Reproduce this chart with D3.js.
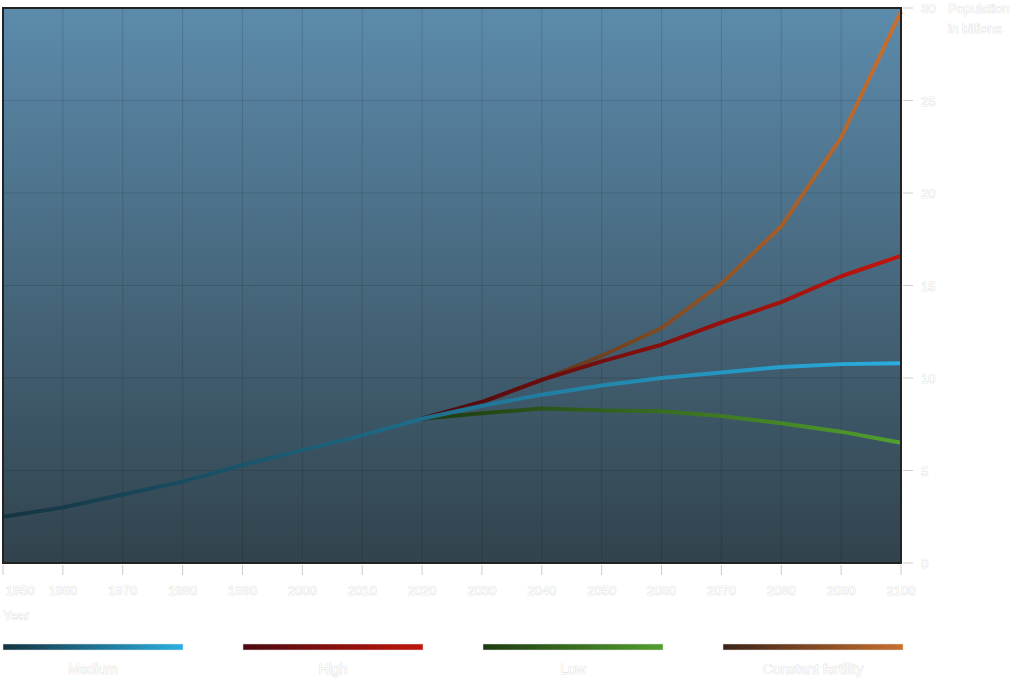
<!DOCTYPE html>
<html><head><meta charset="utf-8">
<script src="https://cdn.jsdelivr.net/npm/d3@7"></script>
<style>body{margin:0;background:#fff}svg{display:block}text{font-family:"Liberation Sans",Arial,sans-serif;fill:#fff;stroke:#cfcfcf;stroke-width:0.6px;paint-order:stroke}</style>
</head><body><svg id="chart" width="1024" height="679"></svg>
<script>
// values
var years = [1950,1960,1970,1980,1990,2000,2010,2020,2030,2040,2050,2060,2070,2080,2090,2100];
var projYears = [2020,2030,2040,2050,2060,2070,2080,2090,2100];
var medium = [2.5,3.0,3.7,4.4,5.3,6.1,6.9,7.8,8.5,9.1,9.6,10.0,10.3,10.6,10.75,10.8];
var high = [7.8,8.7,9.9,10.9,11.8,13.0,14.1,15.5,16.6];
var low = [7.8,8.1,8.35,8.25,8.2,7.95,7.55,7.1,6.5];
var constant = [7.8,8.7,9.9,11.2,12.7,15.1,18.2,23.0,29.8];
var yTicks = [0,5,10,15,20,25,30];
var legendNames = ["Medium","High","Low","Constant fertility"];

var svg = d3.select("#chart");
var x = d3.scaleLinear().domain([1950,2100]).range([3,901]);
var y = d3.scaleLinear().domain([0,30]).range([563,8]);
var defs = svg.append("defs");

var bg = defs.append("linearGradient").attr("id","bg").attr("x1",0).attr("x2",0).attr("y1",0).attr("y2",1);
bg.append("stop").attr("offset","0%").attr("stop-color","#5c8bac");
bg.append("stop").attr("offset","100%").attr("stop-color","#31434d");
svg.append("rect").attr("x",3).attr("y",8).attr("width",898).attr("height",555).attr("fill","url(#bg)");

// grid
svg.append("g").selectAll("line").data(years).join("line")
  .attr("x1",d=>x(d)).attr("x2",d=>x(d)).attr("y1",8).attr("y2",563)
  .attr("stroke","#000").attr("stroke-opacity",0.12);
svg.append("g").selectAll("line").data(yTicks).join("line")
  .attr("x1",3).attr("x2",901).attr("y1",d=>y(d)).attr("y2",d=>y(d))
  .attr("stroke","#000").attr("stroke-opacity",0.12);

var series = [
  {name:"Constant fertility",yrs:projYears,vals:constant,c0:"#3a2418",c1:"#c8702e",x0:2020},
  {name:"High",yrs:projYears,vals:high,c0:"#4a0a10",c1:"#c2150c",x0:2020},
  {name:"Low",yrs:projYears,vals:low,c0:"#1e3a12",c1:"#52a02e",x0:2020},
  {name:"Medium",yrs:years,vals:medium,c0:"#153440",c1:"#29afe2",x0:1950}
];
series.forEach(function(s,i){
  var g = defs.append("linearGradient").attr("id","g"+i).attr("gradientUnits","userSpaceOnUse")
    .attr("x1",x(s.x0)).attr("x2",x(2100)).attr("y1",0).attr("y2",0);
  g.append("stop").attr("offset","0%").attr("stop-color",s.c0);
  g.append("stop").attr("offset","100%").attr("stop-color",s.c1);
  var lg = defs.append("linearGradient").attr("id","lg"+i);
  lg.append("stop").attr("offset","0%").attr("stop-color",s.c0);
  lg.append("stop").attr("offset","100%").attr("stop-color",s.c1);
});
var line = d3.line().x(d=>x(d[0])).y(d=>y(d[1]));
series.forEach(function(s,i){
  svg.append("path").datum(s.yrs.map((yr,j)=>[yr,s.vals[j]]))
    .attr("d",line).attr("fill","none").attr("stroke","url(#g"+i+")")
    .attr("stroke-width",4).attr("stroke-linejoin","round");
});

svg.append("rect").attr("x",3).attr("y",8).attr("width",898).attr("height",555)
  .attr("fill","none").attr("stroke","#222").attr("stroke-width",2);

// x axis
svg.append("g").selectAll("line").data(years).join("line")
  .attr("x1",d=>x(d)).attr("x2",d=>x(d)).attr("y1",565).attr("y2",575).attr("stroke","#ccc");
svg.append("g").selectAll("text").data(years).join("text")
  .attr("x",d=>x(d)+(d==1950?17:0)).attr("y",595).attr("text-anchor","middle").attr("font-size",13).text(d=>d);
svg.append("text").attr("x",3).attr("y",620).attr("font-size",13).text("Year");

// y axis
svg.append("g").selectAll("line").data(yTicks).join("line")
  .attr("x1",903).attr("x2",913).attr("y1",d=>y(d)).attr("y2",d=>y(d)).attr("stroke","#ccc");
svg.append("g").selectAll("text").data(yTicks).join("text")
  .attr("x",921).attr("y",d=>y(d)+5).attr("font-size",13).text(d=>d);
svg.append("text").attr("x",948).attr("y",13).attr("font-size",13).text("Population");
svg.append("text").attr("x",948).attr("y",33).attr("font-size",13).text("in billions");

// legend
var order = [3,1,2,0];
order.forEach(function(i,k){
  var lx = 3 + k*240;
  svg.append("rect").attr("x",lx).attr("y",644).attr("width",180).attr("height",6)
    .attr("fill","url(#lg"+i+")").attr("stroke","#ddd").attr("stroke-width",0.5);
  svg.append("text").attr("x",lx+90).attr("y",674).attr("text-anchor","middle")
    .attr("font-size",14).text(series[i].name);
});
</script></body></html>
